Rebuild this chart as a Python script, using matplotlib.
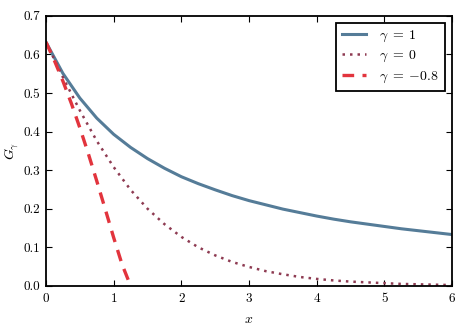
import matplotlib
matplotlib.use("Agg")
import matplotlib.pyplot as plt

plt.rcParams["font.family"] = "cmr10"
plt.rcParams["mathtext.fontset"] = "cm"
plt.rcParams["axes.formatter.use_mathtext"] = True
plt.rcParams["axes.unicode_minus"] = False

# gamma = 1
x_g1 = [0, 0.25, 0.5, 0.75, 1, 1.25, 1.5, 1.75, 2, 2.25, 2.5, 2.75, 3, 3.25,
        3.5, 3.75, 4, 4.25, 4.5, 4.75, 5, 5.25, 5.5, 5.75, 6]
y_g1 = [0.632, 0.551, 0.487, 0.435, 0.393, 0.359, 0.330, 0.305, 0.283, 0.265,
        0.249, 0.234, 0.221, 0.210, 0.199, 0.190, 0.181, 0.173, 0.166, 0.160,
        0.154, 0.148, 0.143, 0.138, 0.133]

# gamma = 0
x_g0 = x_g1
y_g0 = [0.632, 0.541, 0.455, 0.376, 0.308, 0.249, 0.200, 0.160, 0.127, 0.100,
        0.079, 0.062, 0.049, 0.038, 0.030, 0.023, 0.018, 0.014, 0.011, 0.009,
        0.007, 0.005, 0.004, 0.003, 0.002]

# gamma = -0.8
x_gm = [0, 0.125, 0.25, 0.375, 0.5, 0.625, 0.75, 0.875, 1.0, 1.125, 1.25]
y_gm = [0.632, 0.584, 0.531, 0.473, 0.410, 0.343, 0.272, 0.199, 0.125, 0.055, 0.0]

labels = [r"$\gamma\;=\;1$", r"$\gamma\;=\;0$", r"$\gamma\;=\;{-0.8}$"]
x_ticks = [0, 1, 2, 3, 4, 5, 6]
y_ticks = [0.0, 0.1, 0.2, 0.3, 0.4, 0.5, 0.6, 0.7]

fig = plt.figure(figsize=(4.74, 3.32), dpi=100)
ax = fig.add_axes([0.097, 0.139, 0.857, 0.813])

ax.plot(x_g1, y_g1, color="#557c98", lw=2.2, label=labels[0])
ax.plot(x_g0, y_g0, color="#8e3b52", lw=1.8, ls=(0, (1, 2)), label=labels[1])
ax.plot(x_gm, y_gm, color="#e2343d", lw=2.4, ls=(0, (3.5, 2.5)), label=labels[2])

ax.set_xlim(0, 6)
ax.set_ylim(0, 0.7)
ax.set_xticks(x_ticks)
ax.set_yticks(y_ticks)
ax.set_xticklabels([str(t) for t in x_ticks])
ax.set_yticklabels([f"{t:.1f}" for t in y_ticks])
ax.tick_params(direction="in", top=True, right=True, labelsize=9.5,
               length=4, width=0.8)
ax.tick_params(axis="x", pad=5)
ax.tick_params(axis="y", pad=4)
for s in ax.spines.values():
    s.set_linewidth(1.3)

ax.set_xlabel(r"$x$", fontsize=10)
ax.xaxis.set_label_coords(0.5, -0.105)
ax.set_ylabel(r"$G_\gamma$", fontsize=10)
ax.yaxis.set_label_coords(-0.062, 0.5)

leg = ax.legend(loc="upper right", fontsize=10, fancybox=False, framealpha=1,
                edgecolor="black", handlelength=1.7, handletextpad=1.0,
                borderaxespad=0.5, labelspacing=0.35, borderpad=0.45)
leg.get_frame().set_linewidth(1.3)

fig.savefig("out.png", dpi=100)
